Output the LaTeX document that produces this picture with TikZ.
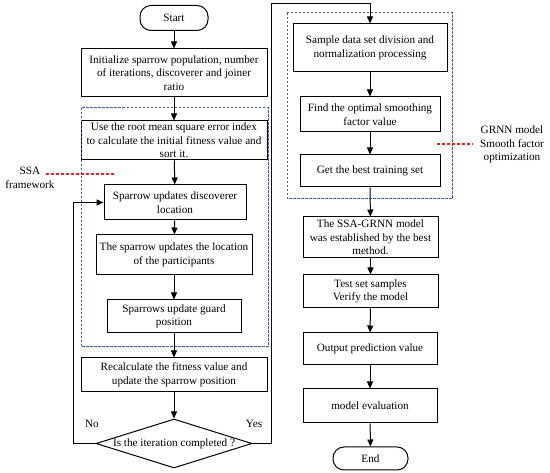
\documentclass[tikz,border=0pt]{standalone}
\usepackage{fontspec}
\setmainfont{Liberation Serif}
\usetikzlibrary{arrows.meta,shapes.geometric}
\definecolor{frameblue}{RGB}{55,90,175}
\definecolor{notered}{RGB}{235,30,30}
\begin{document}
\begin{tikzpicture}[x=1pt,y=-1pt,
  font=\fontsize{11.2}{13.6}\selectfont,
  box/.style={draw, line width=1pt, align=center, inner sep=1pt},
  term/.style={draw, line width=1pt, rounded corners=11pt, inner sep=0pt},
  decide/.style={draw, line width=1pt, diamond, inner sep=0pt},
  frame/.style={draw=frameblue, dash pattern=on 2.5pt off 1.5pt, line width=1pt},
  note/.style={draw=notered, dash pattern=on 3pt off 2pt, line width=1.3pt},
  flow/.style={-{Triangle[length=7pt,width=6pt]}, line width=1pt}]
\useasboundingbox (0,0) rectangle (550,473);
% left column
\node[term, minimum width=68, minimum height=25] (start) at (174,18) {Start};
\node[box, minimum width=186, minimum height=48] (init) at (174,73)
  {Initialize sparrow population, number\\of iterations, discoverer and joiner\\ratio};
\node[box, minimum width=186, minimum height=39] (rmse) at (174,140.5)
  {Use the root mean square error index\\to calculate the initial fitness value and\\sort it.};
\node[box, minimum width=142, minimum height=35] (disc) at (175,202.5)
  {Sparrow updates discoverer\\location};
\node[box, minimum width=156, minimum height=40] (part) at (174,255)
  {The sparrow updates the location\\of the participants};
\node[box, minimum width=134, minimum height=33] (guard) at (174,316.5)
  {Sparrows update guard\\position};
\node[box, minimum width=186, minimum height=34] (recalc) at (174,375)
  {Recalculate the fitness value and\\update the sparrow position};
\node[decide, minimum width=156, minimum height=49,
  label={center:Is the iteration completed ?}] (iter) at (174,443.5) {};
\node (no) at (92,424) {No};
\node (yes) at (254,424) {Yes};
% right column
\node[box, minimum width=154, minimum height=48] (sample) at (370,48)
  {Sample data set division and\\normalization processing};
\node[box, minimum width=140, minimum height=35] (smooth) at (370,114.5)
  {Find the optimal smoothing\\factor value};
\node[box, minimum width=140, minimum height=32] (train) at (370,171)
  {Get the best training set};
\node[box, minimum width=135, minimum height=41] (model) at (370.5,237.5)
  {The SSA-GRNN model\\was established by the best\\method.};
\node[box, minimum width=135, minimum height=33] (test) at (370.5,291.5)
  {Test set samples\\Verify the model};
\node[box, minimum width=134, minimum height=32] (output) at (370,349)
  {Output prediction value};
\node[box, minimum width=134, minimum height=34] (evaluate) at (370,406)
  {model evaluation};
\node[term, minimum width=75, minimum height=23] (end) at (370.5,458.5) {End};
% frames and notes
\draw[frame] (81,108) rectangle (268,347);
\draw[frame] (287,13) rectangle (452,199);
\node[align=center] (ssa) at (30,178) {SSA\\framework};
\draw[note] (46,174) -- (115,174);
\node[align=center] (grnn) at (512,144.5) {GRNN model\\Smooth factor\\optimization};
\draw[note] (437,144) -- (473,144);
% connectors
\coordinate (loopleft) at (73,443.5);
\coordinate (looptop) at (271,4);
\draw[flow] (start) -- (init);
\draw[flow] (init) -- (rmse);
\draw[flow] (rmse) -- (disc);
\draw[flow] (disc) -- (part);
\draw[flow] (part) -- (guard);
\draw[flow] (guard) -- (recalc);
\draw[flow] (recalc) -- (iter);
\draw[flow] (iter.west) -- (loopleft) |- (disc.west);
\draw[flow] (iter.east) -| (looptop) -| (sample.north);
\draw[flow] (sample) -- (smooth);
\draw[flow] (smooth) -- (train);
\draw[flow] (train) -- (model);
\draw[flow] (model) -- (test);
\draw[flow] (test) -- (output);
\draw[flow] (output) -- (evaluate);
\draw[flow] (evaluate) -- (end);
\end{tikzpicture}
\end{document}
